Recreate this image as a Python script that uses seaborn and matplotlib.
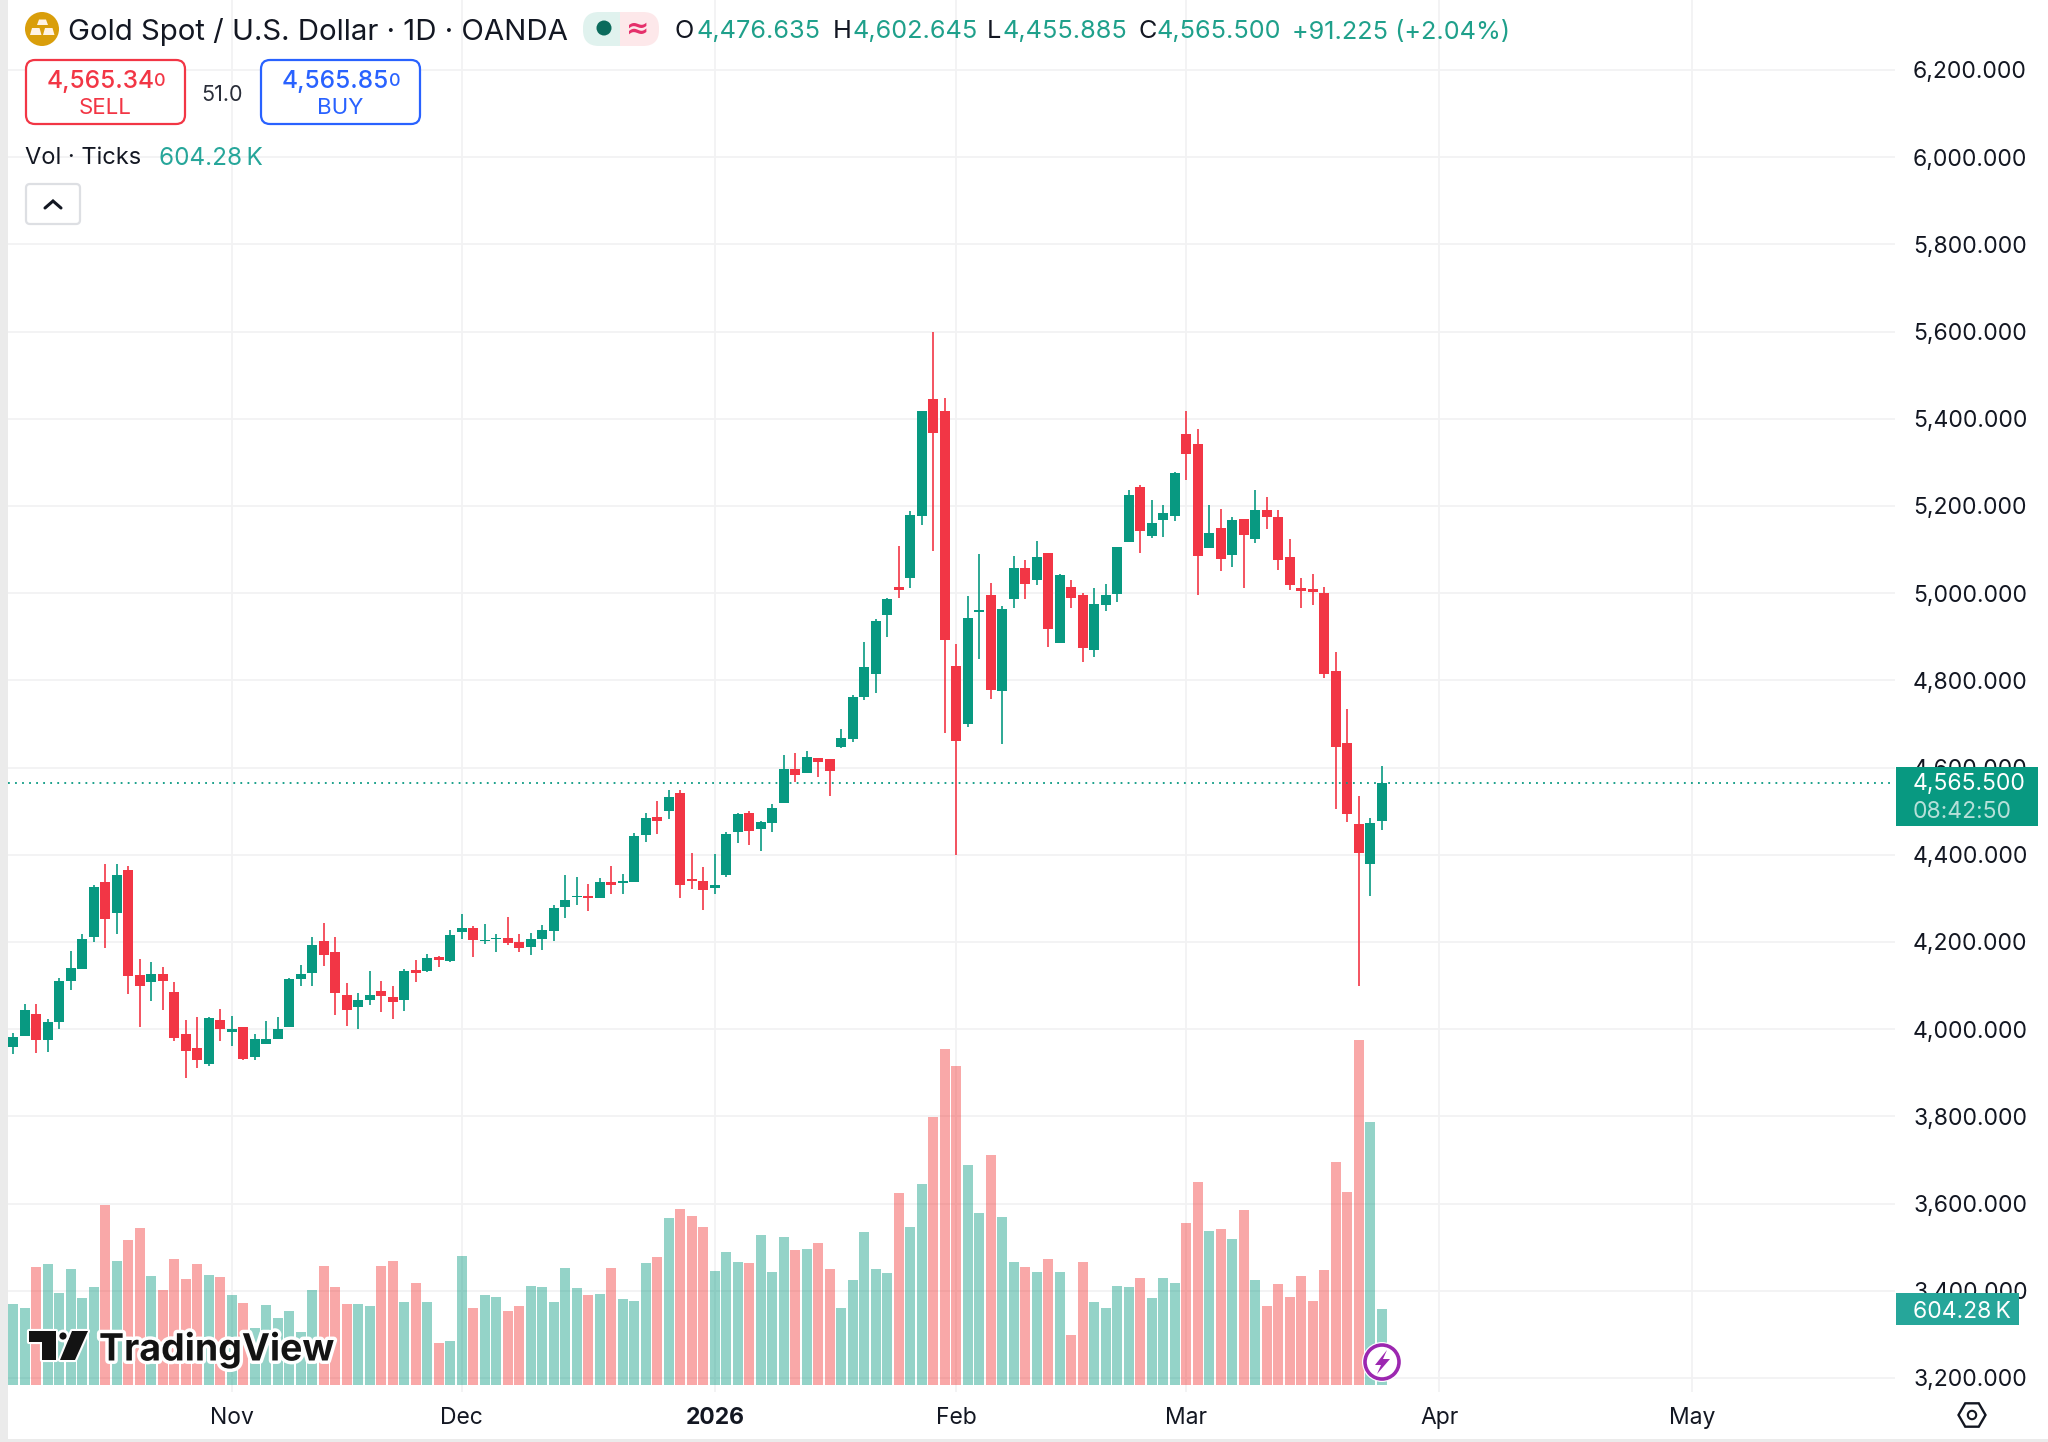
import numpy as np
import pandas as pd
import matplotlib
matplotlib.use("Agg")
import matplotlib.pyplot as plt
from matplotlib.patches import Rectangle, FancyBboxPatch, Circle, Polygon, RegularPolygon
import matplotlib.patheffects as pe
import seaborn as sns

opens = [3960,3984,4036,3975,4017,4111,4138,4211,4337,4266,
4366,4124,4109,4126,4085,3990,3956,3920,4020,3993,
4004,3936,3966,3978,4004,4116,4130,4203,4176,4078,
4050,4066,4088,4073,4066,4135,4134,4166,4157,4224,
4231,4202,4206,4210,4199,4189,4208,4226,4281,4303,
4306,4301,4337,4336,4338,4446,4486,4501,4542,4344,
4341,4325,4353,4453,4497,4459,4474,4519,4596,4588,
4623,4619,4648,4666,4761,4814,4950,5015,5034,5178,
5446,5418,4832,4700,4956,4995,4776,4987,5057,5031,
5093,4886,5015,4995,4869,4972,4999,5117,5243,5132,
5169,5178,5366,5342,5103,5150,5088,5170,5125,5190,
5174,5082,5012,5009,5000,4822,4657,4471,4379,4476.635]
closes = [3983,4043,3975,4017,4111,4141,4207,4326,4253,4354,
4123,4099,4126,4111,3979,3951,3929,4025,4001,4000,
3931,3978,3977,4000,4115,4126,4194,4171,4083,4043,
4066,4078,4077,4063,4133,4130,4163,4159,4216,4231,
4204,4205,4210,4197,4187,4207,4227,4277,4297,4306,
4300,4337,4331,4339,4442,4484,4477,4532,4331,4341,
4320,4330,4447,4493,4454,4475,4508,4596,4584,4625,
4613,4593,4669,4762,4830,4936,4986,5007,5180,5418,
5367,4892,4660,4944,4962,4778,4964,5057,5022,5083,
4919,5041,4989,4875,4975,4995,5107,5226,5142,5161,
5183,5276,5319,5086,5139,5079,5167,5134,5190,5174,
5077,5018,5005,5002,4815,4648,4494,4404,4473,4565.5]
highs = [3991,4058,4058,4023,4117,4179,4218,4331,4380,4380,
4374,4160,4154,4143,4108,4020,4029,4027,4046,4031,
4004,3990,4018,4027,4117,4148,4211,4244,4212,4105,
4082,4133,4110,4099,4139,4159,4172,4167,4227,4264,
4236,4241,4218,4258,4218,4220,4238,4285,4353,4350,
4334,4347,4374,4355,4449,4497,4524,4548,4548,4403,
4372,4401,4453,4495,4500,4477,4516,4629,4634,4639,
4623,4619,4688,4767,4887,4940,4989,5109,5188,5418,
5600,5447,4883,4993,5090,5023,4971,5086,5077,5119,
5093,5045,5030,5000,5011,5022,5107,5236,5248,5214,
5203,5279,5417,5377,5203,5192,5174,5170,5236,5221,
5190,5125,5036,5043,5014,4864,4735,4535,4485,4602.645]
lows = [3942,3984,3945,3947,4000,4089,4138,4200,4186,4219,
4081,4004,4065,4043,3973,3887,3910,3916,3973,3962,
3929,3929,3965,3978,4004,4098,4098,4144,4033,4008,
4000,4056,4039,4023,4041,4109,4131,4142,4153,4206,
4165,4195,4176,4193,4178,4171,4181,4203,4256,4285,
4272,4301,4309,4309,4338,4430,4448,4483,4302,4322,
4274,4309,4349,4428,4423,4408,4452,4519,4568,4588,
4579,4535,4646,4659,4754,4772,4899,4989,5013,5156,
5097,4679,4400,4694,4849,4758,4655,4965,4987,5019,
4877,4886,4965,4842,4853,4960,4980,5117,5093,5127,
5130,5165,5259,4995,5103,5051,5061,5013,5116,5147,
5054,5008,4966,4973,4806,4504,4476,4100,4305,4455.885]
volumes_k = [644,612,932,956,729,919,692,779,1426,985,
1151,1243,863,752,998,842,961,871,855,713,
649,454,634,531,583,422,750,940,779,644,
644,628,940,985,660,810,660,333,348,1024,
607,713,697,583,628,787,774,660,924,766,
713,721,924,681,668,969,1014,1320,1394,1341,
1251,903,1053,977,969,1188,895,1175,1069,1077,
1122,919,607,834,1212,919,887,1518,1251,1592,
2125,2664,2529,1742,1365,1822,1328,977,932,895,
998,895,399,977,660,612,787,779,847,689,
847,810,1283,1608,1220,1236,1159,1389,834,628,
803,697,863,668,911,1766,1531,2732,2086,604.28]
month_positions = [19,39,61,82,102,124,146]
month_labels = ["Nov","Dec","2026","Feb","Mar","Apr","May"]
price_ticks = list(range(3200,6201,200))
last_price = 4565.5

UP = "#089981"; DOWN = "#F23645"; VOL_DOWN = "#F23535"; GRID = "#F2F2F3"; INK = "#131722"
sns.set_style("white")
plt.rcParams['font.family'] = ['Inter','DejaVu Sans']

df = pd.DataFrame({"i":np.arange(len(opens)),"o":opens,"h":highs,"l":lows,"c":closes,"v":volumes_k})
df["up"] = df.c >= df.o
df["base"] = df[["o","c"]].min(axis=1)
df["size"] = (df.c-df.o).abs()

W,H = 2048,1442
fig = plt.figure(figsize=(W/100,H/100),dpi=100,facecolor="white")
L,R,B = 8,1895,1392
pos = [L/W,(H-B)/H,(R-L)/W,B/H]
ax = fig.add_axes(pos,zorder=1)
xlim = ((L-13.3)/11.5,(R-13.3)/11.5)
ylim = (3200+(1378-B)/0.436, 3200+1378/0.436)

for up,col in [(True,UP),(False,DOWN)]:
    s = df[df.up==up]
    ax.vlines(s.i,s.l,s.h,color=col,lw=1.2,zorder=3)
    sns.barplot(x=s.i.values,y=s["size"].values,bottom=s.base.values,color=col,saturation=1,
                native_scale=True,width=0.84,errorbar=None,linewidth=0,ax=ax,zorder=4)
ax.axhline(last_price,color=UP,lw=1.3,ls=(0,(1.0,2.9)),zorder=5)
ax.set_xlim(xlim); ax.set_ylim(ylim)
ax.set_xticks(month_positions,month_labels)
ax.set_yticks(price_ticks,[f"{v:,.3f}" for v in price_ticks])
ax.yaxis.tick_right()
ax.tick_params(axis="y",length=0,pad=13,labelsize=16.5,labelcolor=INK)
ax.tick_params(axis="x",length=0,pad=11,labelsize=16.5,labelcolor=INK)
for t in ax.get_xticklabels():
    if t.get_text()=="2026": t.set_fontweight("bold")
ax.grid(True,color=GRID,lw=1.3); ax.set_axisbelow(True)
ax.set_xlabel(""); ax.set_ylabel("")
sns.despine(ax=ax,left=True,right=True,top=True,bottom=True)

axv = fig.add_axes(pos,zorder=2); axv.patch.set_alpha(0)
for up,col in [(True,UP),(False,VOL_DOWN)]:
    s = df[df.up==up]
    sns.barplot(x=s.i.values,y=s.v.values,color=col,saturation=1,alpha=0.43,native_scale=True,
                width=0.84,errorbar=None,linewidth=0,ax=axv)
axv.set_xlim(xlim); axv.set_ylim(-7*7.92,1385*7.92)
axv.axis("off")

# Interface furniture, placed in pixel coordinates
ui = fig.add_axes([0,0,1,1],zorder=10); ui.set_xlim(0,W); ui.set_ylim(H,0); ui.axis("off"); ui.patch.set_alpha(0)
def txt(x,y,s,size=16,color=INK,ha="left",weight="normal",**k):
    return ui.text(x,y,s,fontsize=size,color=color,ha=ha,va="center_baseline",fontweight=weight,**k)
def box(x0,y0,x1,y1,r,fc,ec="none",lw=0):
    ui.add_patch(FancyBboxPatch((x0+r,y0+r),x1-x0-2*r,y1-y0-2*r,boxstyle=f"round,pad={r},rounding_size={r}",fc=fc,ec=ec,lw=lw))

ui.add_patch(Rectangle((0,0),7.5,H,fc="#EBEBEB",ec="none"))
ui.add_patch(Rectangle((0,1438.5),W,4,fc="#EBEBEB",ec="none"))

# header
ui.add_patch(Circle((42,29),17,fc="#D99E0B",ec="none"))
for pts in [[(37,25),(39,19.5),(46,19.5),(48,25)],[(30,35),(32,28),(39.5,28),(41.5,35)],[(43,35),(45,28),(52.5,28),(54.5,35)]]:
    ui.add_patch(Polygon(pts,fc="#FFF3E6",ec="none"))
txt(68,29.5,"Gold Spot / U.S. Dollar · 1D · OANDA",size=21.2,color="#131722")
box(583,12,640,46,16,"#E0F2EE")
box(600,12,659,46,16,"#FDE8EA")
ui.add_patch(Rectangle((600,12),20,34,fc="#E0F2EE",ec="none"))
ui.add_patch(Rectangle((620,12),20,34,fc="#FDE8EA",ec="none"))
ui.add_patch(Circle((604,28),7.5,fc="#0B6B5C",ec="none"))
ui.text(638,29,"≈",fontsize=20,color="#E5306B",ha="center",va="center",fontweight="bold",family="DejaVu Sans")
G2 = "#1FA08B"
for x,s,c in [(675,"O",INK),(696,"4,476.635",G2),(833,"H",INK),(852,"4,602.645",G2),(987,"L",INK),(1003,"4,455.885",G2),
              (1139,"C",INK),(1157,"4,565.500",G2),(1292,"+91.225 (+2.04%)",G2)]:
    txt(x,29.5,s,size=18.2,color=c)
# sell / buy
for x0,x1,col,main,small,lab in [(26,185,"#F23645","4,565.34","0","SELL"),(261,420,"#2962FF","4,565.85","0","BUY")]:
    box(x0,60,x1,124,9,"white",col,1.6)
    cx=(x0+x1)/2
    txt(x0+21,79,main,size=17.6,color=col,weight="medium")
    txt(x0+128,79,small,size=13,color=col,weight="medium")
    txt(cx,106,lab,size=16,color=col,ha="center")
txt(222,93,"51.0",size=15.5,color="#2A2E39",ha="center")
txt(25,156,"Vol · Ticks",size=17,color=INK)
txt(159,156,"604.28\u2009K",size=17.5,color="#26A69A")
box(26,184,80,224,4,"white","#DDDFE3",1.6)
ui.plot([45,53,61],[208,201,208],color=INK,lw=2.2,solid_capstyle="round",solid_joinstyle="miter")

# price tags
ui.add_patch(Rectangle((1896,767),142,59,fc=UP,ec="none"))
txt(1913,782,"4,565.500",size=16.5,color="white")
txt(1913,809,"08:42:50",size=16.5,color="#B5E0D9")
ui.add_patch(Rectangle((1896,1293),123,32,fc="#26A69A",ec="none"))
txt(1913,1310,"604.28\u2009K",size=16.5,color="white")

# settings icon
ui.add_patch(RegularPolygon((1972,1415),6,radius=13.5,orientation=np.pi/6,fc="none",ec=INK,lw=1.7))
ui.add_patch(Circle((1972,1415),4.2,fc="none",ec=INK,lw=1.5))

# logo
halo=[pe.withStroke(linewidth=5,foreground="white")]
for pts in [[(29,1331),(56,1331),(56,1360),(42,1360),(42,1342),(29,1342)],[(72,1331),(88,1331),(75,1360),(60,1360)]]:
    ui.add_patch(Polygon(pts,fc="#131313",ec="white",lw=3,joinstyle="round",zorder=4))
    ui.add_patch(Polygon(pts,fc="#131313",ec="none",zorder=5))
ui.add_patch(Circle((63,1336),5,fc="#131313",ec="white",lw=2,zorder=5))
txt(99,1346,"TradingView",size=27,color="#131313",weight="bold",path_effects=halo)

# lightning badge
ui.add_patch(Circle((1382,1362),20,fc="white",ec="none"))
ui.add_patch(Circle((1382,1362),17,fc="white",ec="#9C27B0",lw=2.6))
ui.add_patch(Polygon([(1387,1350),(1375,1365),(1381,1365),(1377,1374),(1390,1359),(1383,1359)],fc="#9C27B0",ec="none"))

fig.savefig("out.png",dpi=100)
